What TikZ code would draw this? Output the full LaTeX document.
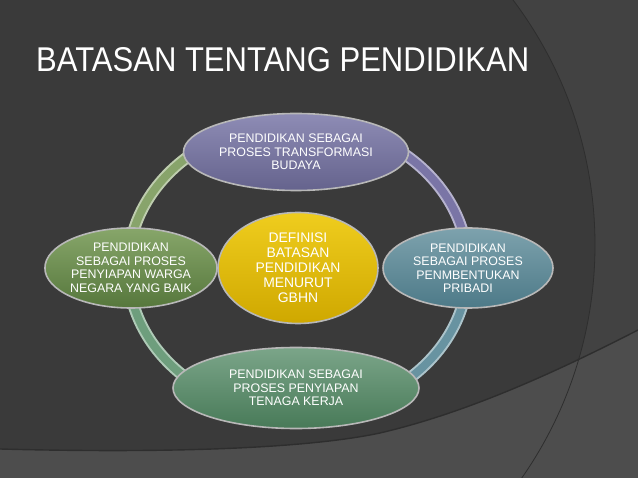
\documentclass[tikz,border=0pt]{standalone}
\usepackage{fontspec}
\usepackage{graphicx}
\setmainfont{Liberation Sans}
\usetikzlibrary{shapes.geometric}
\definecolor{bgmain}{HTML}{3A3A3A}
\definecolor{bgright}{HTML}{424242}
\definecolor{bgbottom}{HTML}{4D4D4D}
\definecolor{bgline}{HTML}{2E2E2E}
\definecolor{cpurple}{HTML}{65638D}
\definecolor{cpurpleT}{HTML}{8E8CB5}
\definecolor{cgold}{HTML}{CFA800}
\definecolor{cgoldT}{HTML}{EFCD1E}
\definecolor{cteal}{HTML}{4D7A88}
\definecolor{ctealT}{HTML}{7DA2AD}
\definecolor{cgreen}{HTML}{487A58}
\definecolor{cgreenT}{HTML}{7BA589}
\definecolor{colive}{HTML}{56773C}
\definecolor{coliveT}{HTML}{87A66A}
\definecolor{rpurple}{HTML}{7A75A6}
\definecolor{rteal}{HTML}{6893A1}
\definecolor{rgreen}{HTML}{6E9E7D}
\definecolor{rolive}{HTML}{88A46B}
\begin{document}
\begin{tikzpicture}[x=1pt,y=-1pt,
  bubble/.style={ellipse, inner sep=0pt, draw=white!72!black, line width=1.6pt,
    text=white, align=center, font=\fontsize{12.4}{13.5}\selectfont},
  ringedge/.style={line width=12pt, draw=#1!55!white},
  ringfill/.style={line width=8pt, draw=#1}]
\useasboundingbox (0,0) rectangle (638,478);
% background
\fill[bgright] (0,0) rectangle (638,478);
\begin{scope}
  \clip (0,0) rectangle (638,478);
  \fill[bgmain] (188,245) circle[radius=407];
  \fill[bgbottom] (0,449) .. controls (150,453) and (300,450) .. (380,433)
     .. controls (470,412) and (560,370) .. (638,330) -- (638,478) -- (0,478) -- cycle;
  \draw[bgline, line width=1.4pt] (0,449) .. controls (150,453) and (300,450) .. (380,433)
     .. controls (470,412) and (560,370) .. (638,330);
  \draw[bgline, line width=0.8pt] (188,245) circle[radius=407];
\end{scope}
% title
\node[anchor=base west, inner sep=0pt, text=white] (title) at (36,72)
  {\resizebox{493pt}{24pt}{\fontsize{33.5}{40}\selectfont BATASAN TENTANG PENDIDIKAN}};
% ring
\coordinate (rc) at (298,268);
\draw[ringedge=rpurple] ([shift={(-90:170 and 146)}]rc) arc[start angle=-90, end angle=0, x radius=170, y radius=146];
\draw[ringfill=rpurple] ([shift={(-90:170 and 146)}]rc) arc[start angle=-90, end angle=0, x radius=170, y radius=146];
\draw[ringedge=rteal] ([shift={(0:170 and 146)}]rc) arc[start angle=0, end angle=90, x radius=170, y radius=146];
\draw[ringfill=rteal] ([shift={(0:170 and 146)}]rc) arc[start angle=0, end angle=90, x radius=170, y radius=146];
\draw[ringedge=rgreen] ([shift={(90:170 and 146)}]rc) arc[start angle=90, end angle=180, x radius=170, y radius=146];
\draw[ringfill=rgreen] ([shift={(90:170 and 146)}]rc) arc[start angle=90, end angle=180, x radius=170, y radius=146];
\draw[ringedge=rolive] ([shift={(180:170 and 146)}]rc) arc[start angle=180, end angle=270, x radius=170, y radius=146];
\draw[ringfill=rolive] ([shift={(180:170 and 146)}]rc) arc[start angle=180, end angle=270, x radius=170, y radius=146];
% bubbles
\node[bubble, minimum width=225pt, minimum height=77pt, top color=cpurpleT, bottom color=cpurple]
  (top) at (296,152) {PENDIDIKAN SEBAGAI\\PROSES TRANSFORMASI\\BUDAYA};
\node[bubble, minimum width=170pt, minimum height=80pt, top color=ctealT, bottom color=cteal]
  (right) at (468,268) {PENDIDIKAN\\SEBAGAI PROSES\\PENMBENTUKAN\\PRIBADI};
\node[bubble, minimum width=246pt, minimum height=81pt, top color=cgreenT, bottom color=cgreen]
  (bottom) at (296,388) {PENDIDIKAN SEBAGAI\\PROSES PENYIAPAN\\TENAGA KERJA};
\node[bubble, minimum width=158pt, minimum height=80pt, top color=coliveT, bottom color=colive]
  (left) at (131,268) {PENDIDIKAN\\SEBAGAI PROSES\\PENYIAPAN WARGA\\NEGARA YANG BAIK};
\node[bubble, minimum width=160pt, minimum height=111pt, top color=cgoldT, bottom color=cgold,
  font=\fontsize{13.9}{15}\selectfont]
  (center) at (298,268) {DEFINISI\\BATASAN\\PENDIDIKAN\\MENURUT\\GBHN};
\end{tikzpicture}
\end{document}
